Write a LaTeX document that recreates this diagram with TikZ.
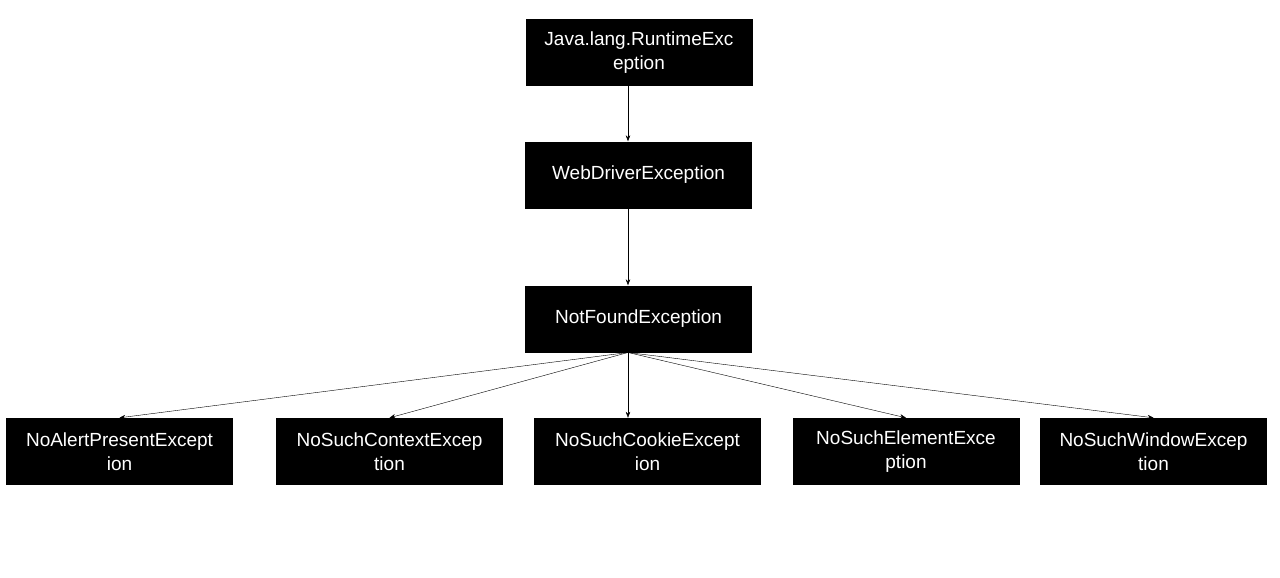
\documentclass[tikz,border=0pt]{standalone}
\usepackage{fontspec}
\setmainfont{Liberation Sans}
\usetikzlibrary{arrows.meta}
\tikzset{
    exc/.style = {fill=black, text=white, minimum width=227pt, minimum height=67pt,
        inner sep=2pt, align=center, font=\fontsize{19}{24}\selectfont},
    link/.style = {-{Stealth[length=6pt, width=4.5pt]}, thin}
}
\begin{document}
\begin{tikzpicture}[x=1pt, y=-1pt]
    \useasboundingbox (0, 0) rectangle (1280, 578);

    % Nodes.
    \node (runtime) [exc] at (639, 52.5) {Java.lang.RuntimeExc\\eption};
    \node (webdriver) [exc] at (638.5, 175) {WebDriverException};
    \node (notfound) [exc] at (638.5, 319) {NotFoundException};

    \node (alert) [exc] at (119.5, 451.5) {NoAlertPresentExcept\\ion};
    \node (context) [exc] at (389.5, 451.5) {NoSuchContextExcep\\tion};
    \node (cookie) [exc] at (647.5, 451.5) {NoSuchCookieExcept\\ion};
    \node (element) [exc] at (906, 451.5) {NoSuchElementExce\\ption};
    \node (window) [exc] at (1153.5, 451.5) {NoSuchWindowExcep\\tion};

    % Paths.
    \draw [link] (runtime.south -| 628, 0) -- (webdriver.north -| 628, 0);
    \draw [link] (webdriver.south -| 628, 0) -- (notfound.north -| 628, 0);
    \coordinate (hub) at (628, 352.5);
    \draw [link] (hub) -- (alert.north);
    \draw [link] (hub) -- (context.north);
    \draw [link] (hub) -- (hub |- cookie.north);
    \draw [link] (hub) -- (element.north);
    \draw [link] (hub) -- (window.north);
\end{tikzpicture}
\end{document}
